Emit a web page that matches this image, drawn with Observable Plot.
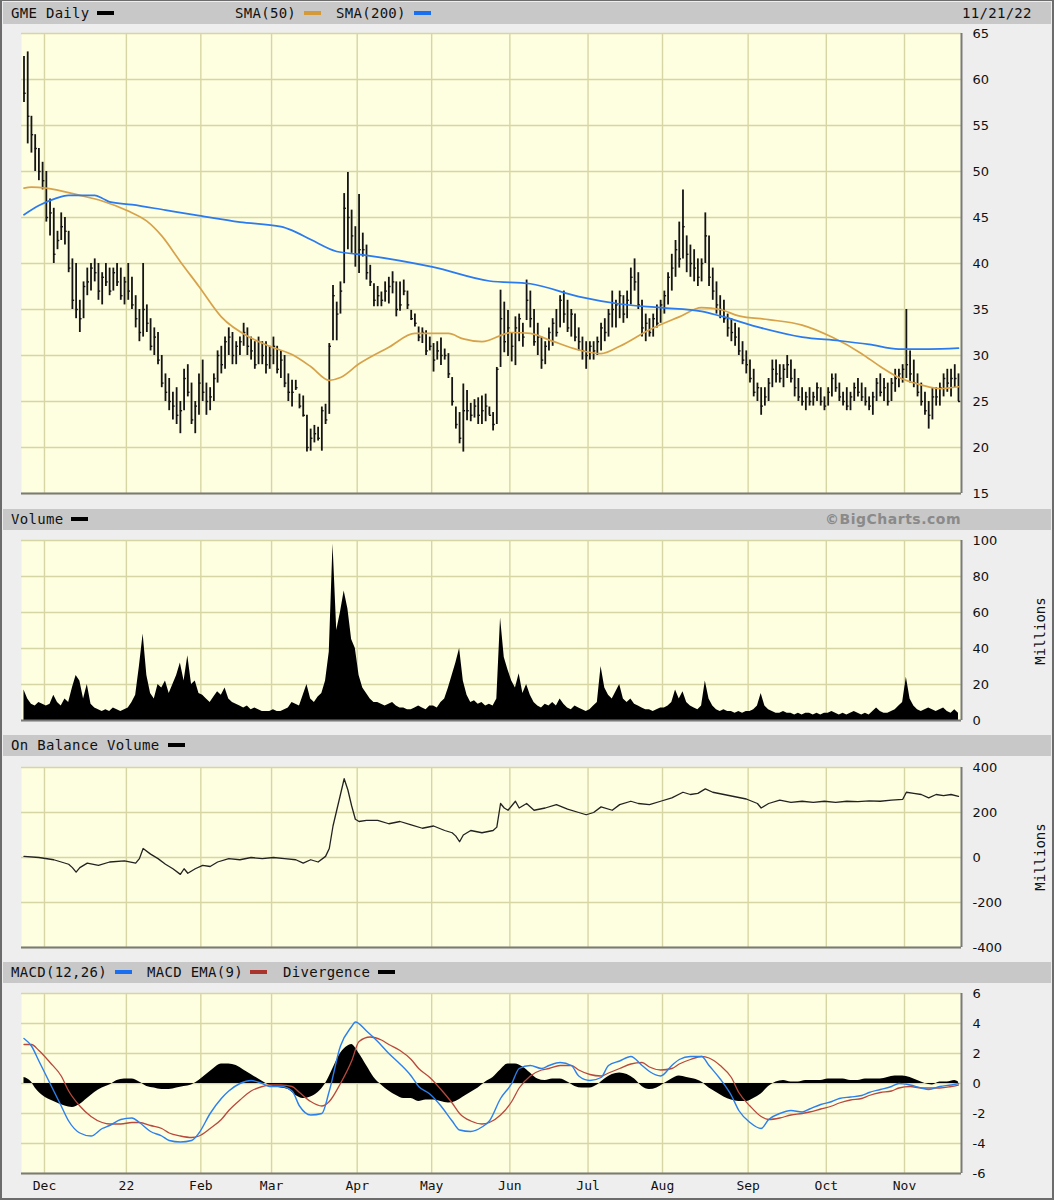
<!DOCTYPE html>
<html>
<head>
<meta charset="utf-8">
<script src="https://cdn.jsdelivr.net/npm/d3@7"></script>
<script src="https://cdn.jsdelivr.net/npm/@observablehq/plot@0.6"></script>
<style>
  html, body { margin: 0; padding: 0; background: #ffffff; }
  #root { position: relative; width: 1054px; height: 1200px; background: #eeeeee; overflow: hidden; }
  .hdr { position: absolute; left: 3px; width: 1048px; background: #c8c8c8; }
  .t { position: absolute; font-family: "DejaVu Sans Mono", monospace; font-size: 14px; color: #111; letter-spacing: 0.3px; white-space: nowrap; }
  .sw { position: absolute; width: 17px; height: 4px; }
  .bc { position: absolute; font-family: "DejaVu Sans", Verdana, sans-serif; font-weight: bold; font-size: 14px; letter-spacing: 0.5px; color: #8a8a8a; white-space: nowrap; }
  .mil { position: absolute; font-family: "DejaVu Sans Mono", monospace; font-size: 14px; color: #111; transform: translate(-50%, -50%) rotate(-90deg); white-space: nowrap; }
  .frm { position: absolute; left: 0; top: 0; width: 1054px; height: 1200px; box-sizing: border-box; border: 2px solid #6c6c6c; border-top-width: 1px; pointer-events: none; }
  svg { position: absolute; left: 0; }
</style>
</head>
<body>
<div id="root"></div>
<script>
// ---------------- DATA ----------------
// trading-day index 0 = Nov 22 2021 ... 251 = Nov 21 2022
const monthStarts = [5.5, 27.5, 47.5, 66.5, 89.5, 109.5, 130.5, 151.5, 171.5, 194.5, 215.5, 236.5];
const monthLabels = ["Dec", "22", "Feb", "Mar", "Apr", "May", "Jun", "Jul", "Aug", "Sep", "Oct", "Nov"];

const priceTicks = [15, 20, 25, 30, 35, 40, 45, 50, 55, 60, 65];
const volTicks = [0, 20, 40, 60, 80, 100];
const obvTicks = [-400, -200, 0, 200, 400];
const macdTicks = [-6, -4, -2, 0, 2, 4, 6];

const high = [
  62.5,63,56,54,52.5,51,
  50,47,46,43.5,45.5,45,43.5,40.5,40,36,
  38,39.5,40,40.5,40,39,40,39.5,39.5,40,39.5,38.5,
  40,38.5,36.5,35,40,35.5,34,33,32.5,30, 28,27.5,26,26.5,25,28.5,29,27,25,28,
  29.5,27,26.5,28,30.5,31,32,33,32.5, 31.5,32,33.5,33,32,31.5,32,31.5,31.5,
  31,32,31,30.5,30,28,27.3,27.3,25.8,25.6, 23.5,22,22.4,22.2,24.4,24.7,31.3,37.6,35.8,38, 47.6,49.9,45.8,44,
  47.5,43.3,42,39.8,37.8,37.5,36.9,38,38.5,39.1, 38,38,38.2,37,34.9,34.5,33.1,33,32.7,32,
  31.3,31.5,31.9,30.7,30.2,27.6,24.4,23.8,26.9,26.2, 24.8,25.2,25.4,25.6,25.8,24.4,23.8,28.7,37.1,35.8, 34.9,
  32.5,34.2,34.5,33.5,38.2,37,35,33.5,32,31.5, 33,34,35,36.5,37,36,35,34.5,33,32, 31.5,
  31.5,31.5,32,33.5,34,35,37,36,37,36.5, 37,39.5,40.5,39,36,34.5,34,34.5,35.5,36,
  37,39,41,42.5,44.5,48,43,42,41.5,40.5, 40.5,45.5,43,39.5,38,36.5,36,34.5,34,33.5, 33,31.5,30.5,
  29.5,28.5,27,26.5,26.5,27.5,29.5,29.5,29,29, 30,29.5,28.5,27.5,26.5,26,26.5,26,27,26.5, 25.5,
  26.5,28,28,27,26,26.5,26,27,27.5,27, 26.5,25.5,26,27.5,28,27.5,27,27.5,28.5,28.5, 29,
  35,30.5,29.5,28,27,26,25,26.5,26.5,27, 28,28.5,28.5,29,28
];
const low = [
  57.5,53,52,50,49,48,
  44.5,43,40,41.5,42.5,42,39,35,34,32.5,
  34,36.5,37,38,36,35.5,37.5,36.5,37,37.5,36,35.5,
  36,35,33,31.5,32,32.5,30.5,30,29,26.5, 25,24,23,22.5,21.5,24,25.5,22.5,21.5,23.5,
  25,23.5,24,25,27,28,28.5,30,29, 29,30,31,30,29.5,28.5,29,29,28,
  28.5,29,28,27.5,26.5,25,24.4,26.2,24.2,23.3, 19.5,19.6,20.5,20.7,19.6,22.5,23.6,31.6,31.6,34.5, 37.8,41.5,41.1,39.6,
  38.9,40.7,38.2,37.5,35.3,35.3,35.3,35.8,35.6,36.7, 34.2,34.8,36.5,35,33.8,33.1,31.5,31.3,30,30.5,
  28.2,29.5,28.9,29.5,27.5,24.5,22,20.4,19.5,22.9, 22.8,23.2,22.5,22.5,22.8,23.5,21.8,22.5,28.7,30.3, 29.9,
  29.3,28.9,31.5,30.9,33.8,33,31,30,28.5,29, 30.5,31,32,33,33.5,32.5,32,31.5,30.5,29.5, 28.5,
  29.5,29.5,30,30.5,31.5,32,33,33,34,33.5, 34,35.5,37,35,32,31.5,32,32,33,33.5,
  34.5,35.5,37,38.5,39.5,40.5,39,38.5,38,37.5, 38,40,37.5,36,34.5,34,33.5,32,31.5,31, 30,29,28,
  27,25.5,25,23.5,24.5,25,26.5,27,27,26.5, 27.5,27,25.5,25,24.5,24,24.5,24.5,25,24.5, 24,
  24.5,25.5,26,25,24.5,24,24,25,25.5,25, 24.5,24,23.5,25,25.5,25,24.5,25,26,26.5, 27,
  27.5,27,26.5,25.5,24.5,23.5,22,23,24.5,24.5, 25.5,26,25.5,26.5,25
];
const close = [
  58.5,56,54,52.5,50,49,
  45,45.5,41,42.5,44,43.5,39.5,36,35,34,
  37.5,38,39.5,39,37,38.5,38,37,39,38,36.5,38,
  37,35.5,34,32.5,35,33.5,31,32,29.5,27, 26,25,24.5,23.5,24,27.5,26,23,24.5,27,
  26,25,25.5,27.5,30,29,31.5,32,30, 31,31.5,32.5,31,30.5,29,31.5,30,29,
  30,31,28.5,29.5,27,26,26,26.5,24.5,23.5, 20,21,21.5,21,24,23,31,36.5,34.5,37, 46,45,43,41,
  41.5,41.5,39,38,36,36.5,36,37,37.5,38, 35,35.5,37,35.5,34,33.5,32,32.5,30.5,31,
  29.5,30.5,30,30,28,25,22.5,21,24,24, 23.5,24.5,23.5,24,24.5,23.5,22.5,28.5,34,31.5, 33,
  31,33,34,32,36,34,31.5,32,29.5,31, 32.5,33.5,32.5,36,34.5,33,34.5,32,31.5,30.5, 30,
  31,30.5,31.5,33,32.5,34.5,35,35.5,36.5,34.5, 36,38.5,38,35.5,33,33.5,32.5,34,33.5,35.5,
  36.5,38.5,39.5,41.5,40.5,44,41,40,39.5,38.5, 40,43,38.5,37,35.5,35,34,33,32.5,32, 30.5,29.5,29,
  27.5,26,26.5,24.5,25.5,27,28.5,28,27.5,28.5, 29,27.5,26.5,25.5,25,25.5,25,25.5,26.5,25, 24.5,
  26,27.5,26.5,25.5,25,24.5,25.5,26.5,26,25.5, 25,24.5,25.5,27,26,26.5,25,27,27.5,28, 28.5,
  29,28,27,26,25,24,23.5,25.5,25.5,26.5, 27.5,27,27.5,27.5,25
];
// volume, millions of shares
const volume = [
  17,12,9,8,10,9,
  8,9,14,10,8,12,10,18,25,22,
  12,20,9,7,6,5,6,5,7,6,5,6,
  7,10,14,30,48,25,15,12,20,18, 22,15,20,25,32,22,36,20,22,15,
  14,12,10,13,16,14,18,12,10, 9,8,7,8,6,7,6,5,5,
  5,6,5,5,6,7,10,9,8,14, 20,12,10,13,15,22,38,98,50,60, 72,62,45,40,
  25,18,15,12,10,10,9,8,9,10, 8,7,7,6,6,7,8,7,6,8,
  8,7,10,12,18,25,32,40,22,14, 10,11,9,10,8,9,8,12,57,35, 28,
  22,18,26,15,20,14,10,8,7,9, 8,10,8,12,9,7,6,8,7,6, 5,
  6,8,10,30,18,14,12,16,20,12, 10,12,9,8,7,6,6,5,6,7,
  7,8,10,17,12,16,10,8,7,6, 8,22,12,8,6,5,6,5,5,4, 5,4,5,
  5,6,8,15,8,6,5,4,4,5, 4,4,3,4,3,4,4,3,4,3, 4,
  4,5,4,3,4,3,4,5,4,3, 4,3,5,7,5,4,4,5,6,8, 10,
  24,12,8,6,5,6,7,6,5,6, 7,5,4,6,4
];
// [day, value] pairs
const sma50 = [[0,48.2],[2,48.3],[6,48.2],[15,47.4],[21,46.8],[28,45.7],[33,44.6],[37,43.0],[42,40.2],[47,37.5],[53,34.2],[61,31.9],[66,31.0],[72,30.1],[77,28.8],[82,27.3],[85,27.6],[90,29.1],[98,30.9],[105,32.4],[107,32.4],[114,32.4],[118,31.8],[123,31.5],[131,32.5],[136,32.4],[141,31.7],[149,30.6],[155,30.2],[160,31.0],[168,32.8],[176,34.2],[182,35.2],[187,35.0],[192,34.3],[200,33.9],[209,33.3],[217,32.0],[225,30.2],[230,28.8],[235,27.6],[241,26.8],[246,26.4],[251,26.6]];
const sma200 = [[0,45.3],[4,46.3],[8,47.0],[12,47.4],[19,47.4],[21,47.1],[23,46.7],[29,46.4],[38,45.8],[47,45.2],[58,44.5],[69,44.0],[72,43.6],[77,42.6],[84,41.3],[90,41.0],[110,39.6],[125,38.1],[136,37.8],[149,36.4],[160,35.6],[171,35.2],[182,34.8],[187,34.3],[198,33.0],[209,32.0],[219,31.6],[227,31.2],[235,30.7],[243,30.7],[251,30.8]];
const obv = [[0,5],[4,0],[8,-10],[12,-30],[13,-45],[14,-65],[15,-45],[17,-25],[20,-35],[23,-20],[27,-15],[30,-25],[31,-5],[32,40],[34,15],[36,-5],[38,-30],[40,-50],[42,-75],[43,-50],[44,-70],[46,-50],[48,-35],[50,-40],[52,-20],[55,-5],[58,-10],[61,0],[64,-5],[67,0],[70,-5],[73,-10],[75,-25],[77,-10],[79,-20],[81,5],[82,40],[83,140],[84,210],[85,280],[86,350],[87,300],[88,230],[89,170],[90,160],[92,165],[95,165],[98,150],[101,160],[104,145],[107,130],[110,140],[113,120],[115,110],[116,95],[117,70],[118,100],[120,120],[123,110],[126,120],[127,135],[128,240],[129,220],[130,210],[132,250],[133,220],[135,240],[137,210],[140,220],[143,235],[146,215],[149,200],[151,190],[153,200],[155,225],[158,210],[160,235],[163,250],[165,240],[168,235],[171,250],[174,265],[177,290],[179,280],[181,285],[183,305],[185,290],[188,280],[191,270],[194,260],[197,240],[198,220],[200,240],[203,255],[206,245],[209,250],[212,245],[215,250],[218,245],[221,250],[224,248],[227,252],[230,250],[233,255],[236,258],[237,290],[239,285],[241,280],[243,265],[245,280],[247,275],[249,280],[251,272]];
const macd = [[0,3.0],[2,2.5],[4,1.5],[7,0],[10,-1.5],[12,-2.5],[15,-3.3],[18,-3.5],[21,-3.0],[23,-2.8],[26,-2.4],[29,-2.3],[31,-2.6],[34,-3.2],[37,-3.5],[39,-3.8],[42,-3.9],[45,-3.8],[47,-3.3],[50,-2.0],[53,-1.0],[55,-0.5],[58,0],[61,0.2],[64,0],[66,-0.2],[69,-0.2],[72,-0.5],[74,-1.5],[77,-2.1],[80,-2.0],[82,-0.5],[85,2.5],[88,3.8],[89,4.1],[92,3.5],[95,2.8],[98,2.0],[101,1.3],[104,0.5],[106,-0.2],[109,-0.7],[112,-1.5],[115,-2.5],[117,-3.1],[120,-3.2],[123,-2.9],[125,-2.5],[128,-1.0],[131,0],[133,1.0],[136,1.2],[139,1.0],[141,1.2],[144,1.4],[147,1.2],[149,0.5],[152,0.2],[155,0.4],[157,1.2],[160,1.5],[163,1.8],[166,1.2],[168,0.8],[171,0.5],[174,1.2],[176,1.6],[179,1.8],[182,1.8],[184,1.2],[187,0.3],[190,-0.8],[192,-1.8],[195,-2.6],[198,-3.0],[200,-2.4],[203,-2.0],[206,-1.8],[209,-1.9],[211,-1.7],[214,-1.4],[217,-1.2],[219,-1.0],[222,-0.9],[225,-0.8],[227,-0.6],[230,-0.4],[233,-0.2],[235,0.0],[238,-0.1],[241,-0.3],[243,-0.4],[246,-0.2],[249,-0.1],[251,0.0]];
const macdSignal = [[0,2.6],[2,2.6],[4,2.2],[7,1.4],[10,0.5],[12,-0.5],[15,-1.5],[18,-2.2],[21,-2.6],[23,-2.7],[26,-2.7],[29,-2.6],[31,-2.6],[34,-2.8],[37,-3.0],[39,-3.3],[42,-3.5],[45,-3.6],[47,-3.5],[50,-3.0],[53,-2.4],[55,-1.8],[58,-1.1],[61,-0.5],[64,-0.2],[66,-0.1],[69,-0.1],[72,-0.2],[74,-0.6],[77,-1.2],[80,-1.5],[82,-1.2],[85,0.0],[88,1.5],[90,2.8],[93,3.1],[96,2.9],[98,2.6],[101,2.2],[104,1.6],[106,1.0],[109,0.4],[112,-0.4],[115,-1.3],[117,-2.0],[120,-2.5],[123,-2.7],[125,-2.6],[128,-2.1],[131,-1.2],[133,-0.3],[136,0.5],[139,0.9],[141,1.0],[144,1.2],[147,1.2],[149,0.9],[152,0.6],[155,0.5],[157,0.7],[160,1.0],[163,1.3],[166,1.4],[168,1.1],[171,0.9],[174,1.0],[176,1.3],[179,1.6],[182,1.8],[184,1.7],[187,1.2],[190,0.4],[192,-0.6],[195,-1.5],[198,-2.2],[200,-2.4],[203,-2.3],[206,-2.1],[209,-2.0],[211,-1.9],[214,-1.7],[217,-1.5],[219,-1.3],[222,-1.1],[225,-1.0],[227,-0.8],[230,-0.6],[233,-0.5],[235,-0.3],[238,-0.2],[241,-0.3],[243,-0.3],[246,-0.3],[249,-0.2],[251,-0.1]];
const divergence = [[0,0.4],[2,0.1],[3,-0.3],[5,-0.8],[8,-1.2],[11,-1.5],[13,-1.6],[15,-1.4],[17,-1.0],[19,-0.6],[21,-0.3],[23,-0.1],[25,0.2],[27,0.3],[29,0.3],[31,0.1],[33,-0.2],[35,-0.3],[37,-0.4],[39,-0.4],[41,-0.3],[43,-0.2],[45,-0.1],[47,0.2],[49,0.6],[51,1.0],[53,1.3],[55,1.3],[57,1.2],[59,0.9],[61,0.6],[63,0.3],[65,0.0],[67,-0.2],[69,-0.3],[71,-0.4],[73,-0.8],[75,-1.0],[77,-0.9],[79,-0.6],[81,0.0],[83,1.0],[85,2.0],[87,2.5],[88,2.6],[90,2.0],[92,1.2],[94,0.4],[96,-0.1],[98,-0.5],[100,-0.8],[102,-1.0],[104,-1.0],[106,-1.2],[108,-1.1],[110,-1.1],[112,-1.2],[114,-1.3],[116,-1.2],[118,-0.9],[120,-0.6],[122,-0.3],[124,0.1],[126,0.4],[128,0.9],[130,1.3],[132,1.3],[134,1.1],[136,0.7],[138,0.3],[140,0.2],[142,0.3],[144,0.3],[146,0.1],[148,-0.2],[150,-0.3],[152,-0.3],[154,-0.1],[156,0.3],[158,0.6],[160,0.7],[162,0.6],[164,0.3],[166,-0.2],[168,-0.4],[170,-0.3],[172,0.0],[174,0.3],[176,0.5],[178,0.4],[180,0.3],[182,0.1],[184,-0.3],[186,-0.6],[188,-0.9],[190,-1.1],[192,-1.2],[194,-1.2],[196,-1.0],[198,-0.7],[200,-0.2],[202,0.1],[204,0.2],[206,0.1],[208,0.1],[210,0.2],[212,0.2],[214,0.2],[216,0.3],[218,0.3],[220,0.3],[222,0.2],[224,0.2],[226,0.3],[228,0.3],[230,0.3],[232,0.4],[234,0.5],[236,0.5],[238,0.4],[240,0.2],[242,0.0],[244,-0.1],[246,0.1],[248,0.1],[250,0.2],[251,0.1]];

// ---------------- RENDER ----------------
const root = document.getElementById("root");
const BG = "#fefee0";
const GRID = "#d6d6a4";
const EDGE = "#7a7a7a";
const xDomain = [-0.67, 251.81];
const W = 1054, ML = 21, MR = 93;

const bars = high.map((h, i) => ({i, high: h, low: low[i], close: close[i]}));
const vols = volume.map((v, i) => ({i, v}));

function panel(top, h, domain, ticks, marks, xAxis) {
  const mt = 10, mb = xAxis ? 30 : 10;
  const svg = Plot.plot({
    width: W, height: h + mt + mb,
    marginLeft: ML, marginRight: MR, marginTop: mt, marginBottom: mb,
    x: {domain: xDomain, axis: null},
    y: {domain, axis: null},
    style: {background: "transparent", fontFamily: "'DejaVu Sans', Verdana, sans-serif", fontSize: "13px", color: "#111", overflow: "visible"},
    marks: [
      Plot.frame({fill: BG, stroke: null}),
      Plot.ruleX(monthStarts, {stroke: GRID, strokeWidth: 1.4}),
      Plot.ruleY(ticks, {stroke: GRID, strokeWidth: 1.4}),
      ...marks,
      Plot.ruleY([domain[0]], {stroke: EDGE, strokeWidth: 2}),
      Plot.ruleX([xDomain[1]], {stroke: EDGE, strokeWidth: 2}),
      Plot.axisY({anchor: "right", ticks, tickSize: 0, tickPadding: 11, tickFormat: d => String(d), label: null}),
      xAxis ? Plot.axisX({anchor: "bottom", ticks: monthStarts, tickSize: 0, tickPadding: 7,
        tickFormat: d => monthLabels[monthStarts.indexOf(d)], label: null,
        fontFamily: "'DejaVu Sans Mono', monospace", fontSize: 13}) : null
    ]
  });
  svg.style.position = "absolute";
  svg.style.left = "0px";
  svg.style.top = (top - mt) + "px";
  root.append(svg);
}

// Price
panel(33, 460, [15, 65], priceTicks, [
  Plot.ruleX(bars, {x: "i", y1: "low", y2: "high", stroke: "#141414", strokeWidth: 1.8}),
  Plot.ruleY(bars, {y: "close", x1: "i", x2: d => d.i + 0.6, stroke: "#141414", strokeWidth: 1.4}),
  Plot.line(sma50, {x: d => d[0], y: d => d[1], stroke: "#d7a24a", strokeWidth: 1.7, curve: "monotone-x"}),
  Plot.line(sma200, {x: d => d[0], y: d => d[1], stroke: "#2a7af0", strokeWidth: 1.7, curve: "monotone-x"})
]);
// Volume
panel(540, 180, [0, 100], volTicks, [
  Plot.areaY(vols, {x: "i", y: "v", fill: "#000", curve: "linear"})
]);
// OBV
panel(767, 180, [-400, 400], obvTicks, [
  Plot.line(obv, {x: d => d[0], y: d => d[1], stroke: "#222", strokeWidth: 1.3})
]);
// MACD
panel(993, 180, [-6, 6], macdTicks, [
  Plot.areaY(divergence, {x: d => d[0], y: d => d[1], fill: "#000", curve: "monotone-x"}),
  Plot.line(macdSignal, {x: d => d[0], y: d => d[1], stroke: "#b8493c", strokeWidth: 1.3, curve: "monotone-x"}),
  Plot.line(macd, {x: d => d[0], y: d => d[1], stroke: "#2a80ec", strokeWidth: 1.4, curve: "monotone-x"})
], true);

// ---------------- HEADERS ----------------
function el(cls, css, text) {
  const d = document.createElement("div");
  d.className = cls;
  Object.assign(d.style, css);
  if (text != null) d.textContent = text;
  root.append(d);
  return d;
}
function header(top, h) { el("hdr", {top: top + "px", height: h + "px"}); }
function label(x, cy, text) { el("t", {left: x + "px", top: (cy - 9) + "px", lineHeight: "18px"}, text); }
function swatch(x, cy, color) { el("sw", {left: x + "px", top: (cy - 2) + "px", background: color}); }

header(2, 22);
label(11, 13, "GME Daily"); swatch(97, 13, "#000");
label(235, 13, "SMA(50)"); swatch(304, 13, "#d49a3a");
label(336, 13, "SMA(200)"); swatch(414, 13, "#1a6ff0");
label(962, 13, "11/21/22");

header(509, 21);
label(11, 519, "Volume"); swatch(71, 519, "#000");
el("bc", {right: (1054 - 961) + "px", top: "510px", lineHeight: "19px"}, "©BigCharts.com");

header(735, 21);
label(11, 745, "On Balance Volume"); swatch(168, 745, "#000");

header(962, 21);
label(11, 972, "MACD(12,26)"); swatch(115, 972, "#1a6ff0");
label(147, 972, "MACD EMA(9)"); swatch(250, 972, "#a8342c");
label(283, 972, "Divergence"); swatch(378, 972, "#000");

el("mil", {left: "1040px", top: "631px"}, "Millions");
el("mil", {left: "1040px", top: "857px"}, "Millions");

el("frm", {});
</script>
</body>
</html>
